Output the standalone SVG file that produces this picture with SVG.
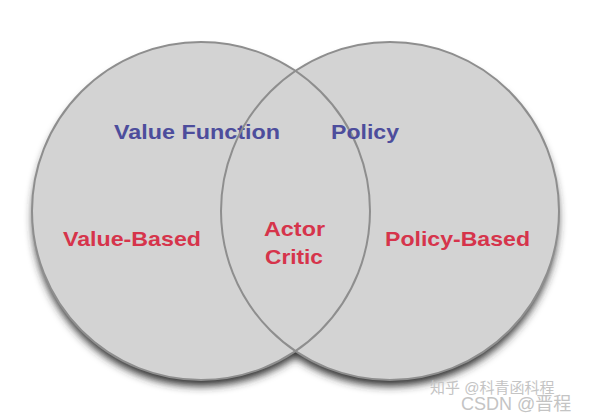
<svg xmlns="http://www.w3.org/2000/svg" width="591" height="419" viewBox="0 0 591 419">
  <defs>
    <filter id="shadow" x="-20%" y="-20%" width="140%" height="140%">
      <feGaussianBlur stdDeviation="4.5"/>
    </filter>
    <style>
      .fill { fill: #d3d3d3; }
      .ring { fill: none; stroke: #8e8e8e; stroke-width: 2; }
      .lbl { font-family: "Liberation Sans", Arial, sans-serif; font-weight: bold; font-size: 21px; }
      .blue { fill: #4d4d9c; }
      .red { fill: #d6344b; }
      .wm { font-family: "Liberation Sans", "Noto Sans CJK SC", sans-serif; fill: #c4c4c4; }
    </style>
  </defs>
  <rect width="591" height="419" fill="#ffffff"/>
  <g id="shadows" filter="url(#shadow)" fill="#2e2e2e">
    <circle cx="201" cy="218" r="168"/>
    <circle cx="390" cy="218" r="168"/>
  </g>
  <g id="fills">
    <circle class="fill" cx="201" cy="211" r="169"/>
    <circle class="fill" cx="390" cy="211" r="169"/>
  </g>
  <g id="value-based">
    <circle class="ring" cx="201" cy="211" r="169"/>
    <text class="lbl blue" x="114" y="139" textLength="166" lengthAdjust="spacingAndGlyphs">Value Function</text>
    <text class="lbl red" x="63" y="246" textLength="138" lengthAdjust="spacingAndGlyphs">Value-Based</text>
  </g>
  <g id="policy-based">
    <circle class="ring" cx="390" cy="211" r="169"/>
    <text class="lbl blue" x="331" y="139" textLength="68" lengthAdjust="spacingAndGlyphs">Policy</text>
    <text class="lbl red" x="385" y="246" textLength="145" lengthAdjust="spacingAndGlyphs">Policy-Based</text>
  </g>
  <g id="actor-critic">
    <text class="lbl red" x="264" y="236" textLength="61" lengthAdjust="spacingAndGlyphs">Actor</text>
    <text class="lbl red" x="265" y="264" textLength="58" lengthAdjust="spacingAndGlyphs">Critic</text>
  </g>
  <g id="connectors"/>
  <g id="watermark">
    <text class="wm" x="430" y="393" font-size="15">知乎 @科青函科程</text>
    <text class="wm" x="461" y="410" font-size="18">CSDN @晋程</text>
  </g>
</svg>
